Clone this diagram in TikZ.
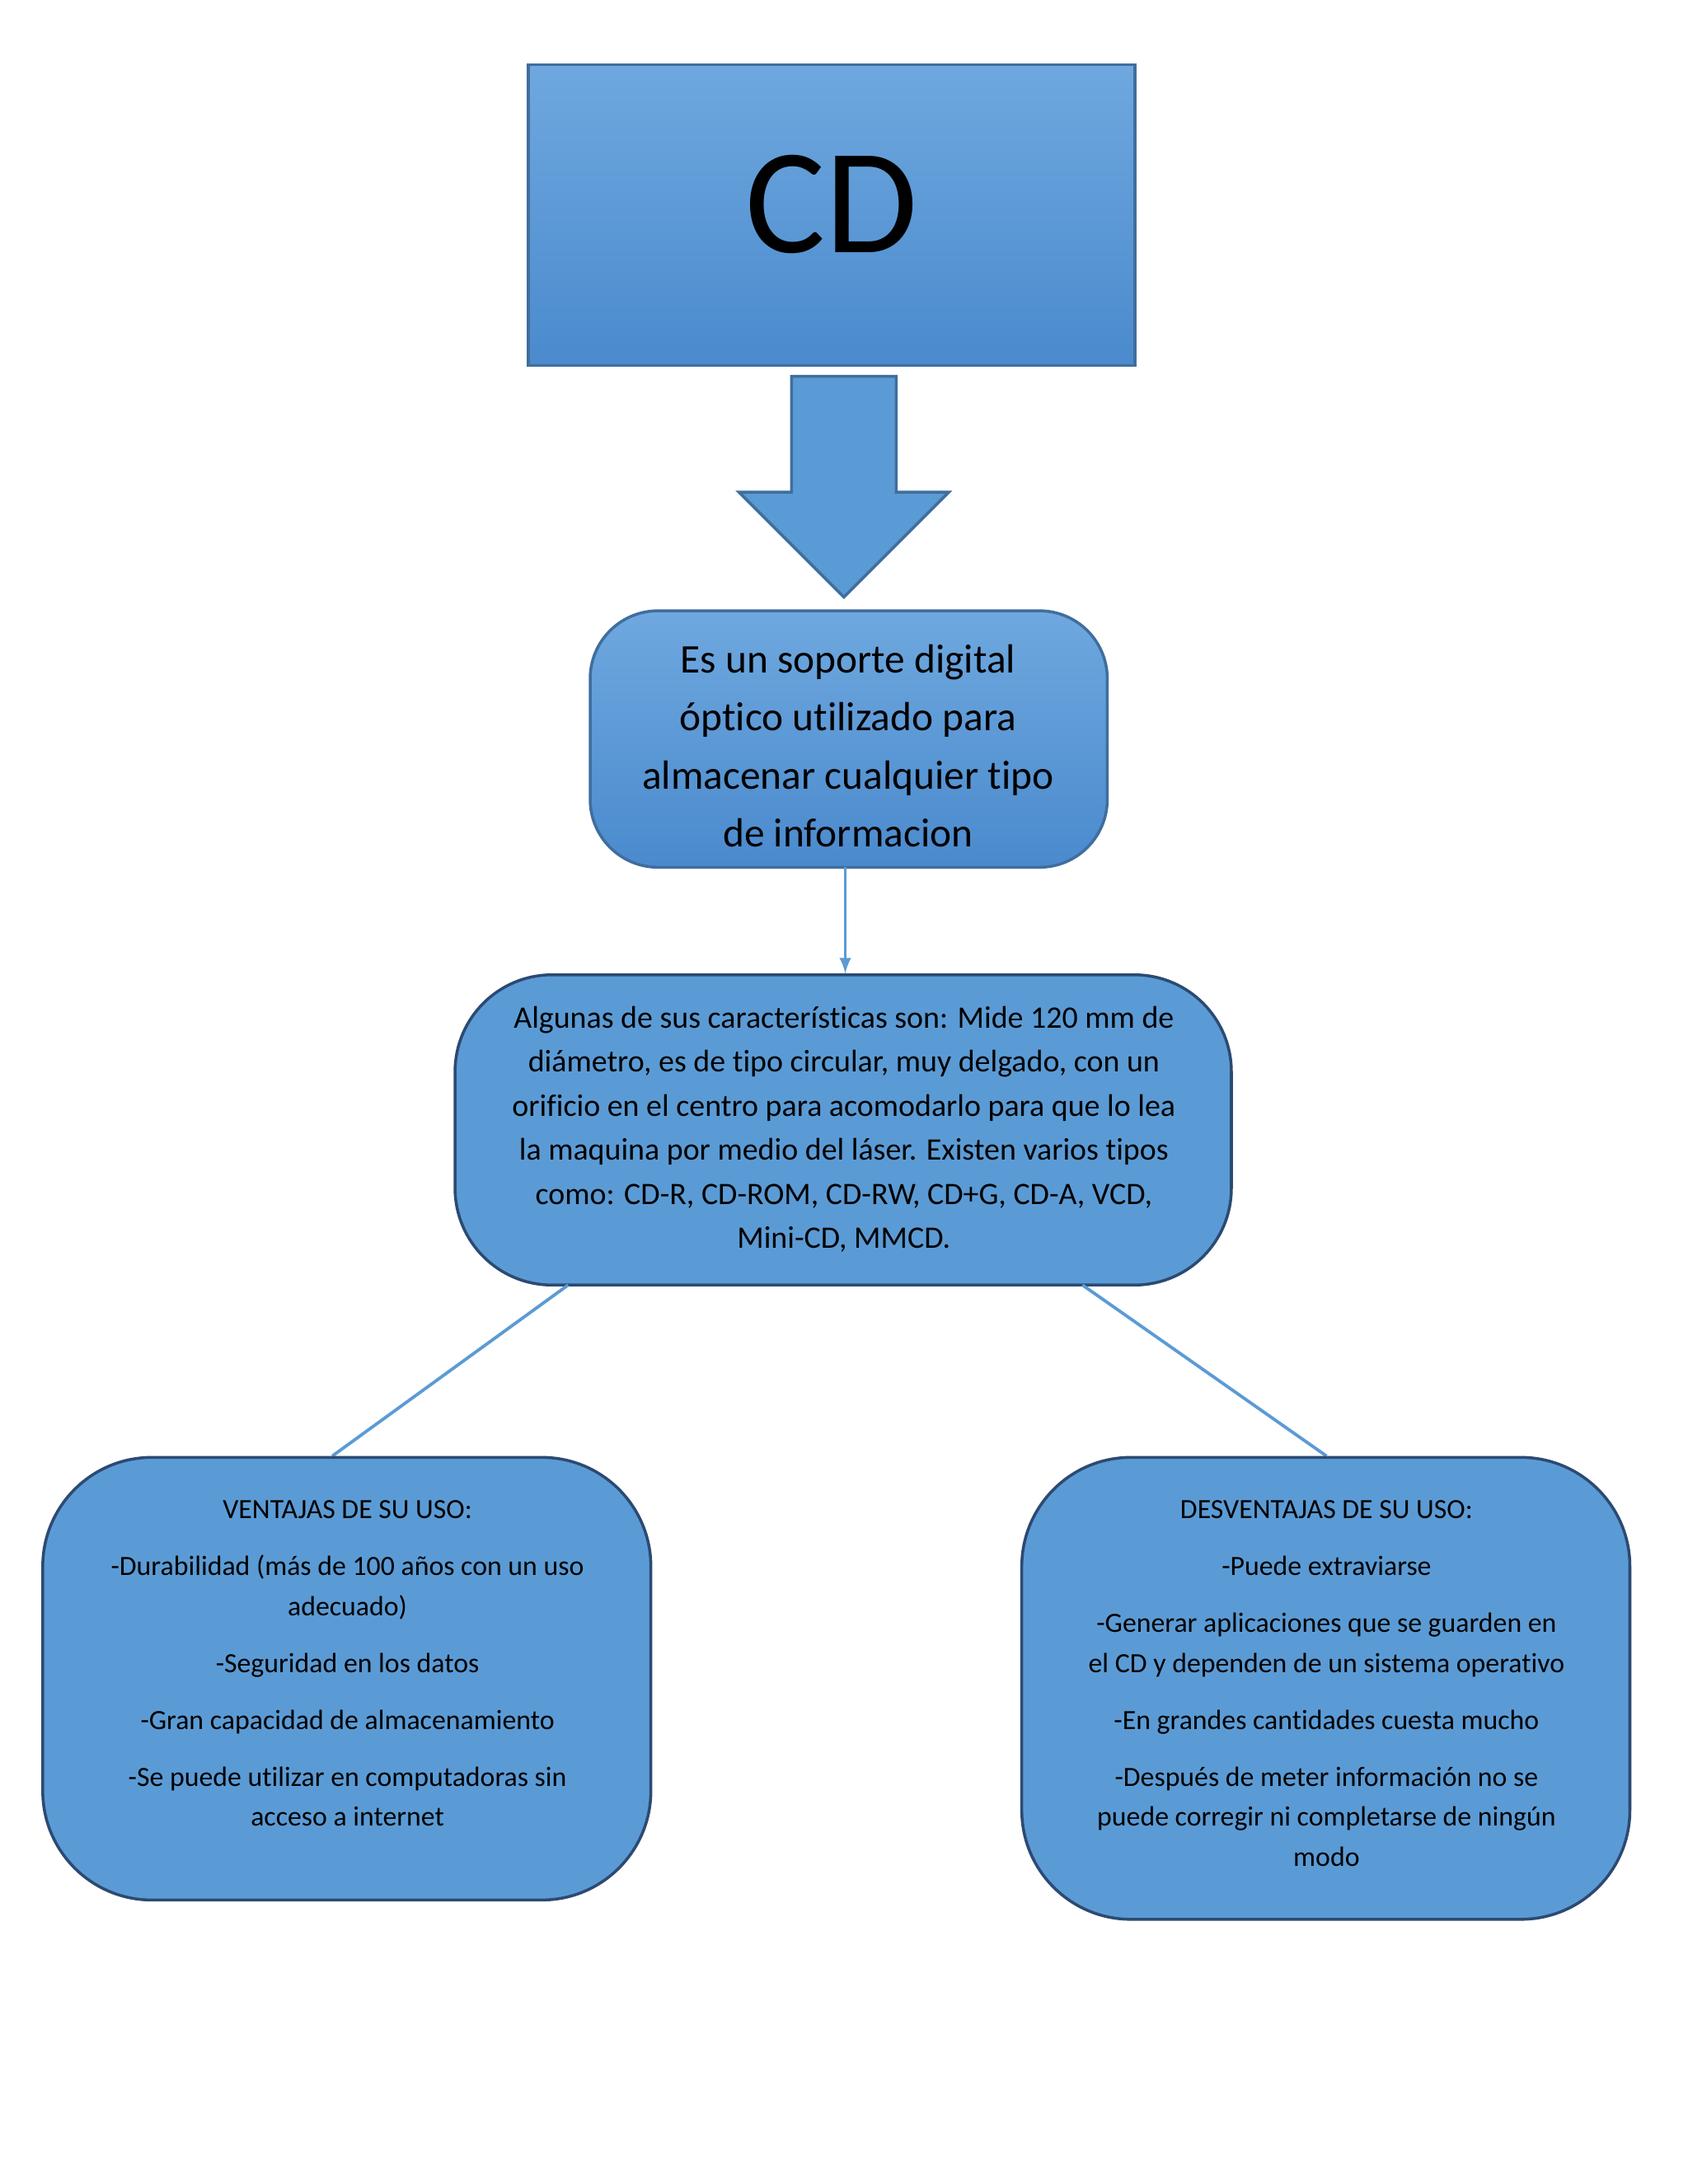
\documentclass[tikz,border=0pt]{standalone}
\usepackage{fontspec}
\setmainfont[Ligatures={NoCommon,NoRare}]{Carlito}
\begin{document}
\begin{tikzpicture}[x=0.02cm,y=-0.02cm,
  bx/.style={draw=bord,line width=1.2pt},
  grad/.style={top color=topc,bottom color=botc},
  txt/.style={align=center,text=black}]
\definecolor{topc}{HTML}{6FA8DF}
\definecolor{botc}{HTML}{4A8ACD}
\definecolor{fillc}{HTML}{5B9BD5}
\definecolor{bord}{HTML}{3F6E9E}
\definecolor{dbord}{HTML}{2C4A72}
\definecolor{lnc}{HTML}{5B9BD5}
\useasboundingbox (0,0) rectangle (1224,1584);
\fill[white] (0,0) rectangle (1224,1584);
% CD box
\path[bx,grad] (383,47) rectangle (823,265);
\node[txt,font=\fontsize{62}{68}\selectfont] (cd) at (603,148) {CD};
% block arrow
\path[bx,fill=fillc,draw=bord] (574,273) -- (650,273) -- (650,357) -- (688,357) -- (612,433) -- (536,357) -- (574,357) -- cycle;
% box 2
\path[bx,grad,rounded corners=28] (428,443) rectangle (803,629);
\node[txt,font=\fontsize{16.8}{24}\selectfont] (b2) at (615,541) {Es un soporte digital\\ óptico utilizado para\\ almacenar cualquier tipo\\ de informacion};
\coordinate (b2s) at (613,629);
\coordinate (b3n) at (613,706);
\draw[lnc,line width=1.2pt,-latex] (b2s) -- (b3n);
% box 3
\path[bx,fill=fillc,draw=dbord,rounded corners=40] (330,707) rectangle (893,932);
\node[txt,font=\fontsize{12.9}{18.2}\selectfont] (b3) at (612,819) {Algunas de sus características son: Mide 120 mm de\\ diámetro, es de tipo circular, muy delgado, con un\\ orificio en el centro para acomodarlo para que lo lea\\ la maquina por medio del láser. Existen varios tipos\\ como: CD-R, CD-ROM, CD-RW, CD+G, CD-A, VCD,\\ Mini-CD, MMCD.};
\coordinate (l1) at (412,932); \coordinate (l2) at (241,1056);
\coordinate (r1) at (785,932); \coordinate (r2) at (962,1056);
\draw[lnc,line width=1.3pt] (l1) -- (l2);
\draw[lnc,line width=1.3pt] (r1) -- (r2);
% left box
\path[bx,fill=fillc,draw=dbord,rounded corners=45] (31,1057) rectangle (472,1378);
\node[txt,font=\fontsize{11.5}{16.5}\selectfont,anchor=north] (v) at (252,1082) {VENTAJAS DE SU USO:\\[7pt]
-Durabilidad (más de 100 años con un uso\\ adecuado)\\[7pt]
-Seguridad en los datos\\[7pt]
-Gran capacidad de almacenamiento\\[7pt]
-Se puede utilizar en computadoras sin\\ acceso a internet};
% right box
\path[bx,fill=fillc,draw=dbord,rounded corners=45] (741,1057) rectangle (1182,1392);
\node[txt,font=\fontsize{11.5}{16.5}\selectfont,anchor=north] (d) at (962,1082) {DESVENTAJAS DE SU USO:\\[7pt]
-Puede extraviarse\\[7pt]
-Generar aplicaciones que se guarden en\\ el CD y dependen de un sistema operativo\\[7pt]
-En grandes cantidades cuesta mucho\\[7pt]
-Después de meter información no se\\ puede corregir ni completarse de ningún\\ modo};
\end{tikzpicture}
\end{document}
